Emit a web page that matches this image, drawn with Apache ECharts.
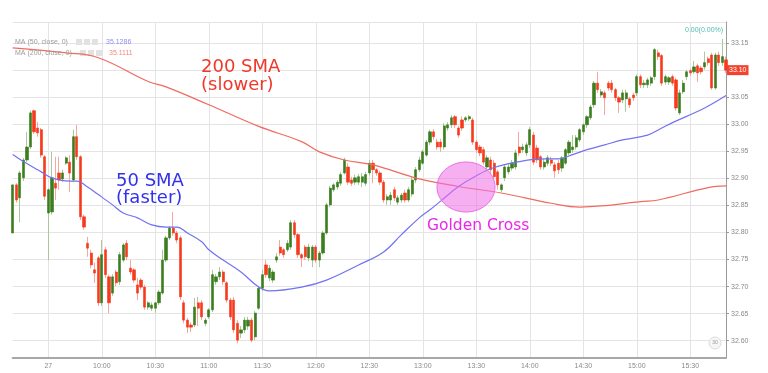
<!DOCTYPE html>
<html><head><meta charset="utf-8">
<script src="https://cdn.jsdelivr.net/npm/echarts@6/dist/echarts.min.js"></script>
<style>html,body{margin:0;padding:0;background:#fff}#c{width:768px;height:373px}</style>
</head><body><div id="c"></div>
<script>
// 2-minute candles from 09:10 to 15:50
const firstMinute = 9 * 60 + 10, stepMinutes = 2, candleCount = 201;
const categories = [];
for (let i = 0; i < candleCount; i++) {
  const m = firstMinute + i * stepMinutes;
  categories.push(String(Math.floor(m / 60)).padStart(2, '0') + ':' + String(m % 60).padStart(2, '0'));
}
const tickTimes  = ['09:30','10:00','10:30','11:00','11:30','12:00','12:30','13:00','13:30','14:00','14:30','15:00','15:30'];
const tickLabels = ['27','10:00','10:30','11:00','11:30','12:00','12:30','13:00','13:30','14:00','14:30','15:00','15:30'];

const open = [32.799,32.888,32.864,32.901,32.934,32.958,33.025,32.993,32.990,32.940,32.836,32.838,32.891,32.910,32.899,32.928,32.930,32.897,32.977,32.940,
32.829,32.780,32.762,32.731,32.753,32.670,32.768,32.718,32.688,32.727,32.709,32.749,32.780,32.734,32.731,32.703,32.712,32.699,32.662,32.660,
32.660,32.670,32.688,32.749,32.790,32.808,32.799,32.790,32.670,32.638,32.629,32.629,32.670,32.670,32.632,32.644,32.657,32.709,32.718,32.727,
32.707,32.675,32.675,32.632,32.614,32.620,32.627,32.638,32.607,32.660,32.697,32.740,32.716,32.712,32.749,32.773,32.768,32.768,32.773,32.818,
32.796,32.759,32.773,32.753,32.749,32.773,32.749,32.762,32.799,32.851,32.879,32.884,32.891,32.910,32.921,32.897,32.893,32.893,32.893,32.891,
32.910,32.928,32.916,32.910,32.893,32.860,32.860,32.879,32.856,32.860,32.873,32.860,32.871,32.897,32.916,32.928,32.943,32.967,32.986,32.967,
32.967,32.958,32.993,32.999,33.014,32.993,33.008,33.008,33.010,33.008,32.967,32.958,32.953,32.921,32.934,32.928,32.912,32.879,32.901,32.912,
32.919,32.921,32.958,32.953,32.947,32.962,32.980,32.956,32.940,32.921,32.928,32.934,32.925,32.928,32.919,32.928,32.947,32.953,32.958,32.971,
32.986,32.999,33.012,33.036,33.076,33.054,33.058,33.076,33.076,33.064,33.049,33.045,33.047,33.047,33.054,33.058,33.088,33.073,33.073,33.076,
33.088,33.132,33.127,33.078,33.078,33.088,33.082,33.021,33.060,33.088,33.099,33.097,33.108,33.104,33.106,33.121,33.128,33.067,33.128,33.114,
33.119];
const close = [32.888,32.860,32.910,32.934,32.958,33.021,32.986,32.984,32.943,32.867,32.879,32.901,32.882,32.897,32.910,32.938,32.910,32.977,32.940,32.829,
32.810,32.771,32.740,32.725,32.670,32.759,32.722,32.670,32.718,32.707,32.759,32.777,32.755,32.727,32.712,32.688,32.699,32.662,32.670,32.666,
32.670,32.690,32.749,32.790,32.808,32.799,32.786,32.681,32.638,32.625,32.625,32.662,32.660,32.644,32.638,32.657,32.722,32.718,32.727,32.709,
32.675,32.644,32.620,32.601,32.620,32.638,32.638,32.601,32.651,32.697,32.722,32.722,32.734,32.727,32.755,32.762,32.759,32.780,32.818,32.796,
32.759,32.753,32.755,32.773,32.773,32.749,32.762,32.799,32.851,32.882,32.888,32.893,32.907,32.934,32.893,32.891,32.901,32.903,32.903,32.907,
32.928,32.916,32.910,32.893,32.860,32.866,32.869,32.864,32.864,32.869,32.860,32.879,32.897,32.916,32.934,32.949,32.967,32.986,32.977,32.958,
32.958,32.997,32.999,33.012,32.999,32.980,32.993,33.012,33.014,32.967,32.953,32.947,32.930,32.938,32.916,32.903,32.888,32.888,32.921,32.921,
32.928,32.947,32.947,32.958,32.962,32.990,32.930,32.934,32.921,32.930,32.938,32.928,32.914,32.916,32.938,32.953,32.967,32.958,32.975,32.990,
32.999,33.014,33.032,33.076,33.064,33.060,33.049,33.067,33.064,33.049,33.041,33.058,33.058,33.036,33.049,33.088,33.073,33.076,33.082,33.086,
33.138,33.125,33.076,33.088,33.086,33.076,33.030,33.058,33.076,33.097,33.095,33.106,33.095,33.097,33.114,33.114,33.067,33.128,33.114,33.125,
33.100];
const low = [32.780,32.855,32.819,32.895,32.930,32.954,32.982,32.977,32.938,32.860,32.749,32.833,32.860,32.879,32.893,32.925,32.875,32.893,32.934,32.823,
32.805,32.755,32.734,32.707,32.664,32.664,32.716,32.651,32.683,32.701,32.703,32.745,32.749,32.722,32.707,32.675,32.694,32.657,32.657,32.655,
32.651,32.666,32.685,32.745,32.786,32.794,32.780,32.675,32.632,32.614,32.616,32.625,32.627,32.638,32.627,32.640,32.653,32.703,32.712,32.703,
32.670,32.638,32.614,32.595,32.605,32.614,32.620,32.597,32.601,32.657,32.692,32.716,32.710,32.707,32.744,32.757,32.753,32.764,32.768,32.790,
32.753,32.736,32.749,32.747,32.736,32.744,32.736,32.759,32.796,32.847,32.875,32.879,32.886,32.907,32.888,32.886,32.888,32.888,32.884,32.886,
32.905,32.891,32.905,32.888,32.855,32.851,32.851,32.858,32.851,32.855,32.855,32.856,32.866,32.891,32.912,32.925,32.940,32.962,32.971,32.953,
32.949,32.953,32.988,32.993,32.993,32.975,32.988,33.004,33.006,32.962,32.947,32.941,32.925,32.916,32.910,32.897,32.879,32.875,32.895,32.907,
32.914,32.916,32.941,32.947,32.941,32.956,32.925,32.928,32.916,32.916,32.923,32.923,32.901,32.908,32.912,32.925,32.943,32.947,32.953,32.967,
32.980,32.993,33.008,33.030,33.058,33.049,33.017,33.062,33.058,33.043,33.021,33.039,33.023,33.030,33.043,33.052,33.067,33.067,33.067,33.071,
33.082,33.119,33.071,33.073,33.073,33.071,33.025,33.017,33.056,33.082,33.089,33.093,33.078,33.092,33.101,33.108,33.064,33.064,33.108,33.108,
33.095];
const high = [32.891,32.891,32.914,32.938,32.986,33.025,33.027,33.004,32.993,32.943,32.882,32.949,32.940,32.940,32.916,32.941,32.943,32.990,32.999,32.943,
32.833,32.792,32.768,32.744,32.757,32.786,32.773,32.722,32.723,32.731,32.764,32.780,32.786,32.749,32.734,32.716,32.716,32.703,32.673,32.671,
32.671,32.694,32.768,32.794,32.812,32.838,32.803,32.794,32.675,32.642,32.634,32.679,32.681,32.675,32.642,32.660,32.731,32.723,32.736,32.731,
32.710,32.679,32.681,32.638,32.627,32.644,32.644,32.642,32.655,32.701,32.731,32.749,32.740,32.731,32.762,32.786,32.771,32.786,32.823,32.823,
32.799,32.762,32.777,32.779,32.777,32.777,32.766,32.803,32.855,32.886,32.891,32.897,32.912,32.938,32.928,32.903,32.907,32.908,32.910,32.912,
32.934,32.934,32.919,32.914,32.897,32.871,32.875,32.884,32.869,32.873,32.879,32.884,32.903,32.921,32.940,32.953,32.971,32.990,32.991,32.973,
32.973,33.002,33.004,33.017,33.017,32.997,33.014,33.015,33.017,33.012,32.971,32.962,32.958,32.943,32.940,32.934,32.916,32.891,32.925,32.927,
32.934,32.953,32.986,32.964,32.967,32.995,32.986,32.962,32.943,32.936,32.943,32.940,32.930,32.934,32.941,32.956,32.971,32.980,32.980,32.993,
33.002,33.017,33.036,33.080,33.097,33.065,33.062,33.080,33.082,33.067,33.052,33.064,33.064,33.051,33.058,33.092,33.092,33.082,33.086,33.089,
33.141,33.138,33.130,33.092,33.089,33.092,33.086,33.064,33.082,33.101,33.103,33.117,33.112,33.108,33.134,33.125,33.132,33.132,33.134,33.158,
33.125];

// moving averages at selected candles
const ma50Times  = ['09:10','09:16','09:26','09:32','09:42','09:46','09:52','09:58','10:06','10:12','10:20','10:28','10:36','10:42','10:48','10:56','11:00','11:08','11:18','11:28','11:34','11:52','12:06','12:24','12:38','12:48','12:58','13:04','13:10','13:20','13:30','13:40','13:54','14:08','14:16','14:24','14:32','14:42','14:52','15:06','15:14','15:20','15:38','15:50'];
const ma50Values = [32.944,32.931,32.912,32.901,32.895,32.895,32.884,32.870,32.851,32.836,32.827,32.814,32.810,32.810,32.799,32.783,32.768,32.749,32.727,32.699,32.692,32.699,32.712,32.740,32.764,32.796,32.827,32.842,32.858,32.885,32.905,32.920,32.931,32.936,32.936,32.944,32.953,32.962,32.971,32.980,32.993,33.003,33.030,33.053];
const ma200Times  = ['09:10','09:40','09:58','10:26','10:36','11:00','11:28','11:52','12:02','12:16','12:32','12:58','13:20','13:44','14:12','14:28','14:40','15:02','15:12','15:40','15:50'];
const ma200Values = [33.141,33.132,33.123,33.079,33.069,33.036,32.996,32.968,32.949,32.934,32.925,32.899,32.885,32.873,32.854,32.847,32.849,32.857,32.860,32.883,32.886];

const lastPrice = close[close.length - 1];

const fullData = open.map((o, i) => [o, close[i], low[i], high[i]]);
const bodyData = open.map((o, i) => [o, close[i], Math.min(o, close[i]), Math.max(o, close[i])]);
const ma50Data = ma50Times.map((t, i) => [t, ma50Values[i]]);
const ma200Data = ma200Times.map((t, i) => [t, ma200Values[i]]);

const isTick = (idx, val) => tickTimes.indexOf(val) >= 0;
const UP = '#3b7d1f', DOWN = '#f7391d';

const chart = echarts.init(document.getElementById('c'), null, {renderer: 'canvas'});
const small = {fontSize: 7, fontFamily: 'Liberation Sans, Arial, sans-serif'};
chart.setOption({
  animation: false,
  backgroundColor: '#ffffff',
  grid: {left: 12.7, right: 42, top: 22, bottom: 15},
  xAxis: {
    type: 'category', data: categories, boundaryGap: false,
    axisLine: {lineStyle: {color: '#a8a8a8', width: 2}},
    axisTick: {show: false},
    axisLabel: {interval: isTick, formatter: v => tickLabels[tickTimes.indexOf(v)], color: '#8a8a8a', margin: 5, ...small},
    splitLine: {show: true, interval: isTick, lineStyle: {color: '#e4e4e4', width: 1}}
  },
  yAxis: {
    type: 'value', position: 'right', scale: true, min: 32.568, max: 33.189, splitNumber: 12,
    axisLine: {show: true, lineStyle: {color: '#9a9a9a'}},
    axisTick: {show: true, length: 3, lineStyle: {color: '#9a9a9a'}},
    axisLabel: {color: '#8a8a8a', margin: 5, showMinLabel: false, showMaxLabel: false, formatter: v => v.toFixed(2), ...small},
    splitLine: {lineStyle: {color: '#e4e4e4', width: 1}}
  },
  series: [
    {type: 'candlestick', name: 'wick', data: fullData, barWidth: 1,
      itemStyle: {color: '#a9c99b', color0: '#f5a79e', borderColor: '#a9c99b', borderColor0: '#f5a79e', borderWidth: 1}},
    {type: 'candlestick', name: 'body', data: bodyData, barWidth: 2.7,
      itemStyle: {color: UP, color0: DOWN, borderColor: UP, borderColor0: DOWN, borderWidth: 0.6},
      markLine: {symbol: 'none', silent: true, lineStyle: {color: 'rgba(0,0,0,0)', width: 1, type: 'solid'},
        label: {show: true, position: 'end', distance: 1, formatter: p => Number(p.value).toFixed(2), color: '#ffffff', backgroundColor: '#f4422e', padding: [2, 2, 1, 2], ...small},
        data: [{yAxis: lastPrice}]}},
    {type: 'line', name: 'MA 200', data: ma200Data, smooth: 0.4, showSymbol: false, lineStyle: {color: '#ef6b60', width: 1.2}, z: 4},
    {type: 'line', name: 'MA 50', data: ma50Data, smooth: 0.4, showSymbol: false, lineStyle: {color: '#7272f2', width: 1.2}, z: 4}
  ],
  graphic: [
    {type: 'ellipse', shape: {cx: 466, cy: 187, rx: 29, ry: 25}, z: 10,
      style: {fill: 'rgba(238,110,230,0.55)', stroke: '#ea6ee4', lineWidth: 1}},
    {type: 'text', left: 201, top: 58, z: 11, style: {text: '200 SMA', fill: '#f0382a', fontSize: 18, fontFamily: 'DejaVu Sans'}},
    {type: 'text', left: 201, top: 76, z: 11, style: {text: '(slower)', fill: '#f0382a', fontSize: 18, fontFamily: 'DejaVu Sans'}},
    {type: 'text', left: 116, top: 172, z: 11, style: {text: '50 SMA', fill: '#3131ee', fontSize: 18, fontFamily: 'DejaVu Sans'}},
    {type: 'text', left: 116, top: 189, z: 11, style: {text: '(faster)', fill: '#3131ee', fontSize: 18, fontFamily: 'DejaVu Sans'}},
    {type: 'text', left: 427, top: 218, z: 11, style: {text: 'Golden Cross', fill: '#ec24ec', fontSize: 15.5, fontFamily: 'DejaVu Sans'}},
    {type: 'text', left: 15, top: 39, z: 11, style: {text: 'MA (50, close, 0)', fill: '#9a9a9a', ...small}},
    {type: 'rect', shape: {x: 76, y: 39, width: 6, height: 6}, style: {fill: '#e2e2e2'}},
    {type: 'rect', shape: {x: 84, y: 39, width: 6, height: 6}, style: {fill: '#e2e2e2'}},
    {type: 'rect', shape: {x: 92, y: 39, width: 6, height: 6}, style: {fill: '#e2e2e2'}},
    {type: 'text', left: 106, top: 39, z: 11, style: {text: '35.1286', fill: '#8e8ef0', ...small}},
    {type: 'text', left: 15, top: 50, z: 11, style: {text: 'MA (200, close, 0)', fill: '#9a9a9a', ...small}},
    {type: 'rect', shape: {x: 80, y: 50, width: 6, height: 6}, style: {fill: '#e2e2e2'}},
    {type: 'rect', shape: {x: 88, y: 50, width: 6, height: 6}, style: {fill: '#e2e2e2'}},
    {type: 'rect', shape: {x: 96, y: 50, width: 6, height: 6}, style: {fill: '#e2e2e2'}},
    {type: 'text', left: 109, top: 50, z: 11, style: {text: '35.1111', fill: '#f08a80', ...small}},
    {type: 'text', left: 685, top: 27, z: 11, style: {text: '0.00(0.00%)', fill: '#4dbdb5', ...small}},
    {type: 'circle', shape: {cx: 715, cy: 343, r: 6}, z: 11, style: {fill: '#f6f6f6', stroke: '#dcdcdc', lineWidth: 1}},
    {type: 'text', z: 12, x: 715, y: 343, style: {text: '30', fill: '#999', fontSize: 5, align: 'center', verticalAlign: 'middle', fontFamily: 'Liberation Sans'}}
  ]
});
</script></body></html>
